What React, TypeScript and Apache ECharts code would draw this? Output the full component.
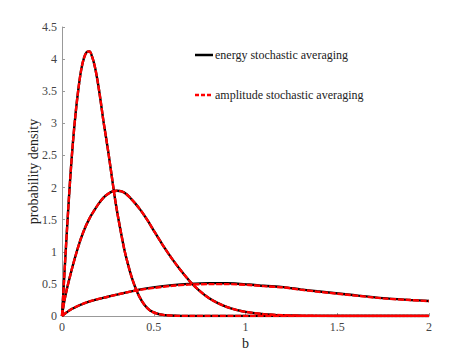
import React, { useEffect, useRef } from "react";
import * as echarts from "echarts";

const xTicks = ["0", "0.5", "1", "1.5", "2"];
const yTicks = ["0", "0.5", "1", "1.5", "2", "2.5", "3", "3.5", "4", "4.5"];

// narrow density
const b1 = [0, 0.01, 0.02, 0.03, 0.045, 0.06, 0.075, 0.09, 0.105, 0.12, 0.135, 0.15, 0.165, 0.18, 0.195, 0.21, 0.225, 0.24, 0.255, 0.27, 0.285, 0.3, 0.32, 0.34, 0.36, 0.38, 0.4, 0.42, 0.45, 0.48, 0.52, 0.56, 0.62, 0.7, 1.0, 1.5, 2.0];
const p1 = [0, 0.5, 1.0, 1.48, 2.15, 2.72, 3.18, 3.55, 3.84, 4.02, 4.11, 4.12, 4.03, 3.87, 3.64, 3.36, 3.05, 2.78, 2.5, 2.2, 1.9, 1.63, 1.32, 1.03, 0.8, 0.6, 0.44, 0.31, 0.17, 0.085, 0.035, 0.014, 0.004, 0.001, 0, 0, 0];

// middle density
const b2 = [0, 0.01, 0.025, 0.05, 0.075, 0.1, 0.125, 0.15, 0.175, 0.2, 0.225, 0.25, 0.275, 0.3, 0.325, 0.35, 0.375, 0.4, 0.425, 0.45, 0.475, 0.5, 0.55, 0.6, 0.65, 0.7, 0.75, 0.8, 0.85, 0.9, 0.95, 1.0, 1.1, 1.2, 1.3, 1.5, 2.0];
const p2 = [0, 0.19, 0.4, 0.69, 0.95, 1.18, 1.37, 1.52, 1.64, 1.75, 1.84, 1.9, 1.94, 1.95, 1.94, 1.9, 1.83, 1.75, 1.66, 1.56, 1.45, 1.33, 1.1, 0.89, 0.7, 0.53, 0.39, 0.28, 0.2, 0.14, 0.095, 0.065, 0.03, 0.012, 0.005, 0.001, 0];

// broad density
const b3 = [0, 0.053, 0.143, 0.25, 0.325, 0.42, 0.507, 0.6, 0.69, 0.8, 0.9, 1.02, 1.1, 1.206, 1.3, 1.39, 1.57, 1.75, 1.9, 2.0];
const p3e = [0, 0.11, 0.22, 0.3, 0.35, 0.41, 0.45, 0.48, 0.5, 0.512, 0.51, 0.49, 0.47, 0.45, 0.415, 0.385, 0.33, 0.278, 0.25, 0.234];
const p3a = [0, 0.11, 0.22, 0.3, 0.35, 0.405, 0.44, 0.47, 0.488, 0.497, 0.497, 0.482, 0.465, 0.445, 0.41, 0.38, 0.327, 0.275, 0.248, 0.232];

const ENERGY = "energy stochastic averaging";
const AMPLITUDE = "amplitude stochastic averaging";

const pairs = (xs: number[], ys: number[]) => xs.map((x, i) => [x, ys[i]]);

export default function App() {
  const ref = useRef<HTMLDivElement>(null);
  useEffect(() => {
    const chart = echarts.init(ref.current!, undefined, { renderer: "svg" });
    const font = "'Liberation Serif', serif";
    const black = (data: number[][]) => ({
      type: "line",
      name: ENERGY,
      data,
      smooth: 0.3,
      symbol: "none",
      lineStyle: { color: "#000", width: 2.4 },
      z: 2,
    });
    const red = (data: number[][]) => ({
      type: "line",
      name: AMPLITUDE,
      data,
      smooth: 0.3,
      symbol: "none",
      lineStyle: { color: "#ff0000", width: 2.4, type: [6, 1.6] },
      z: 3,
    });
    chart.setOption({
      animation: false,
      backgroundColor: "#fff",
      textStyle: { fontFamily: font },
      grid: { left: 62, right: 45, top: 27, bottom: 39 },
      graphic: [
        { type: "line", shape: { x1: 195, y1: 55, x2: 213, y2: 55 }, style: { stroke: "#000", lineWidth: 2.5 } },
        { type: "text", x: 215, y: 55, style: { text: ENERGY, font: "12px " + font, fill: "#222", verticalAlign: "middle" } },
        { type: "line", shape: { x1: 195, y1: 95, x2: 213, y2: 95 }, style: { stroke: "#ff0000", lineWidth: 2.5, lineDash: [4, 2] } },
        { type: "text", x: 215, y: 95, style: { text: AMPLITUDE, font: "12px " + font, fill: "#222", verticalAlign: "middle" } },
      ],
      xAxis: {
        type: "value",
        min: 0,
        max: 2,
        interval: 0.5,
        name: "b",
        nameLocation: "middle",
        nameGap: 20,
        nameMoveOverlap: false,
        nameTextStyle: { fontFamily: font, fontSize: 14, color: "#222", verticalAlign: "top" },
        axisLine: { lineStyle: { color: "#999" } },
        axisTick: { inside: true, length: 3, lineStyle: { color: "#999" } },
        axisLabel: {
          fontFamily: font,
          fontSize: 12,
          color: "#444",
          margin: 5,
          formatter: (v: number) => xTicks[Math.round(v / 0.5)] ?? "",
        },
        splitLine: { show: false },
      },
      yAxis: {
        type: "value",
        min: 0,
        max: 4.5,
        interval: 0.5,
        name: "probability density",
        nameLocation: "middle",
        nameGap: 22,
        nameMoveOverlap: false,
        nameTextStyle: { fontFamily: font, fontSize: 14, color: "#222" },
        axisLine: { show: true, lineStyle: { color: "#999" } },
        axisTick: { show: true, inside: true, length: 3, lineStyle: { color: "#999" } },
        axisLabel: {
          fontFamily: font,
          fontSize: 12,
          color: "#444",
          margin: 5,
          formatter: (v: number) => yTicks[Math.round(v / 0.5)] ?? "",
        },
        splitLine: { show: false },
      },
      series: [
        black(pairs(b1, p1)),
        black(pairs(b2, p2)),
        black(pairs(b3, p3e)),
        red(pairs(b1, p1)),
        red(pairs(b2, p2)),
        red(pairs(b3, p3a)),
      ],
    });
    return () => chart.dispose();
  }, []);
  return (
    <div
      ref={ref}
      style={{ position: "fixed", left: 0, top: 0, width: 474, height: 355 }}
    />
  );
}
